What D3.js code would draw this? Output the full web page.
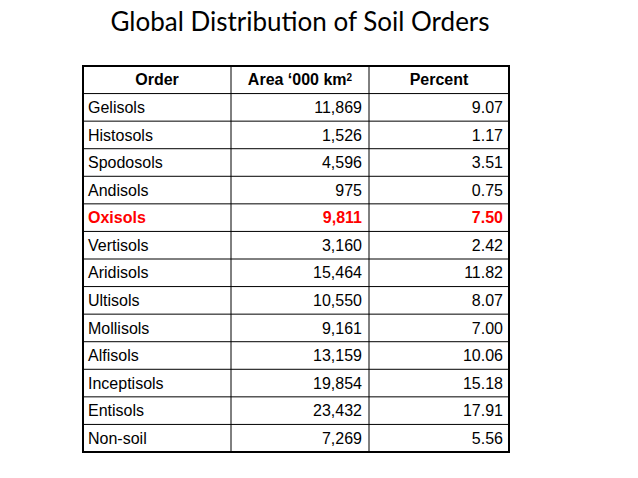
<!DOCTYPE html>
<html><head><meta charset="utf-8">
<script src="https://cdn.jsdelivr.net/npm/d3@7"></script>
<style>body{margin:0;background:#fff}</style>
</head><body>
<svg id="chart" width="638" height="478"></svg>
<script>
var headers = ["Order", "Area \u2018000 km", "Percent"];
var orders = ["Gelisols","Histosols","Spodosols","Andisols","Oxisols","Vertisols","Aridisols","Ultisols","Mollisols","Alfisols","Inceptisols","Entisols","Non-soil"];
var areas = ["11,869","1,526","4,596","975","9,811","3,160","15,464","10,550","9,161","13,159","19,854","23,432","7,269"];
var percents = ["9.07","1.17","3.51","0.75","7.50","2.42","11.82","8.07","7.00","10.06","15.18","17.91","5.56"];
var highlight = "Oxisols";

var svg = d3.select("#chart");
var tLeft = 83, tRight = 509, tTop = 66, tBottom = 452;
var colEdges = [tLeft, 231, 369, tRight];

var y = d3.scaleBand().domain(d3.range(orders.length + 1)).range([tTop, tBottom]);

svg.append("text").attr("x", 300).attr("y", 31).attr("text-anchor", "middle")
  .style("font-family", "Lato, 'Open Sans', sans-serif").style("font-size", "26px")
  .text("Global Distribution of Soil Orders");

var g = svg.append("g").style("font-family", "'Liberation Sans', Arial, sans-serif").style("font-size", "16px");

// header
headers.forEach(function (h, i) {
  var t = g.append("text").attr("x", (colEdges[i] + colEdges[i + 1]) / 2).attr("y", y(0) + y.bandwidth() / 2)
    .attr("dy", ".35em").attr("text-anchor", "middle").style("font-weight", "bold").text(h);
  if (i === 1) t.append("tspan").attr("dy", "-0.4em").style("font-size", "10px").text("2");
});

var rows = g.selectAll("g.row").data(orders).enter().append("g").attr("class", "row")
  .attr("transform", function (d, i) { return "translate(0," + (y(i + 1) + y.bandwidth() / 2) + ")"; })
  .style("fill", function (d) { return d === highlight ? "#ff0000" : "#000"; })
  .style("font-weight", function (d) { return d === highlight ? "bold" : "normal"; });

rows.append("text").attr("x", tLeft + 5).attr("dy", ".35em").text(function (d) { return d; });
rows.append("text").attr("x", colEdges[2] - 7).attr("dy", ".35em").attr("text-anchor", "end")
  .text(function (d, i) { return areas[i]; });
rows.append("text").attr("x", tRight - 6).attr("dy", ".35em").attr("text-anchor", "end")
  .text(function (d, i) { return percents[i]; });

// grid lines
g.selectAll("line.h").data(d3.range(1, orders.length + 1)).enter().append("line")
  .attr("x1", tLeft).attr("x2", tRight).attr("y1", function (d) { return y(d); }).attr("y2", function (d) { return y(d); })
  .attr("stroke", "#000").attr("stroke-width", 1);
g.selectAll("line.v").data([colEdges[1], colEdges[2]]).enter().append("line")
  .attr("x1", function (d) { return d; }).attr("x2", function (d) { return d; })
  .attr("y1", tTop).attr("y2", tBottom).attr("stroke", "#000").attr("stroke-width", 1);
g.append("rect").attr("x", tLeft).attr("y", tTop).attr("width", tRight - tLeft).attr("height", tBottom - tTop)
  .attr("fill", "none").attr("stroke", "#000").attr("stroke-width", 2);
</script>
</body></html>
